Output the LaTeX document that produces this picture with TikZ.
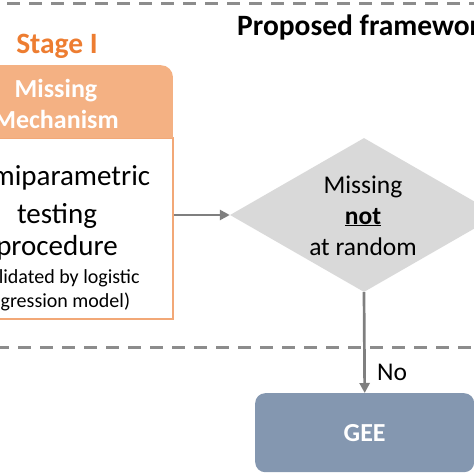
\documentclass[tikz,border=0pt]{standalone}
\usepackage{fontspec}
\setmainfont{Carlito}
\usetikzlibrary{shapes.geometric,arrows.meta}
\definecolor{orhead}{HTML}{F4B183}
\definecolor{orline}{HTML}{F2A877}
\definecolor{ortext}{HTML}{ED7D31}
\definecolor{diagray}{HTML}{D9D9D9}
\definecolor{geeblue}{HTML}{8497B0}
\definecolor{arrgray}{HTML}{7F7F7F}
\definecolor{dashgray}{HTML}{8C8C8C}
\begin{document}
\begin{tikzpicture}[x=1pt,y=-1pt,
  sepline/.style={draw=dashgray, line width=3pt, dash pattern=on 13pt off 9pt},
  arr/.style={draw=arrgray, line width=2.7pt, -{Triangle[length=10pt,width=10pt]}},
  bigtxt/.style={font=\fontsize{29}{35}\selectfont, inner sep=0, anchor=base},
  smalltxt/.style={font=\fontsize{20}{24}\selectfont, inner sep=0, anchor=base},
  diatxt/.style={font=\fontsize{25.5}{30}\selectfont, inner sep=0, anchor=base},
  headtxt/.style={font=\bfseries\fontsize{26}{30}\selectfont, text=white, inner sep=0, anchor=base},
  titletxt/.style={font=\bfseries\fontsize{29.5}{34}\selectfont, inner sep=0}
]
\useasboundingbox (0,0) rectangle (474,474);
\clip (0,0) rectangle (474,474);

% separators
\coordinate (s1a) at (-15,3.5);
\coordinate (s1b) at (490,3.5);
\coordinate (s2a) at (-4,347);
\coordinate (s2b) at (490,347);
\draw[sepline] (s1a) -- (s1b);
\draw[sepline] (s2a) -- (s2b);

% titles
\node[titletxt, anchor=base west] (prop) at (237,35) {Proposed framework};
\node[titletxt, anchor=base, text=ortext] (stage) at (57,53) {Stage I};

% stage I box
\node[draw=orline, line width=1.5pt, fill=white, minimum width=232pt, minimum height=181pt,
      inner sep=0, anchor=north west] (body) at (-60,137) {};
\node[fill=orhead, rounded corners=12pt, minimum width=233.5pt, minimum height=72.5pt,
      inner sep=0, anchor=north west] (head) at (-60.75,65) {};
\fill[orhead] (-60.75,105) rectangle (172.75,137.5);

\node[headtxt] (h1) at (56,97) {Missing};
\node[headtxt] (h2) at (56,128) {Mechanism};

\node[bigtxt] (b1) at (57,185) {Semiparametric};
\node[bigtxt] (b2) at (57,223) {testing};
\node[bigtxt] (b3) at (57,255) {procedure};
\node[smalltxt] (b4) at (57,283) {(validated by logistic};
\node[smalltxt] (b5) at (57,307) {regression model)};

% decision
\node[diamond, fill=diagray, minimum width=268pt, minimum height=154pt, aspect=1.74,
      inner sep=0] (dia) at (364,215) {};
\node[diatxt] (d1) at (363,193) {Missing};
\node[diatxt] (d2) at (363,224) {\textbf{\underline{not}}};
\node[diatxt] (d3) at (363,255) {at random};

% GEE
\node[fill=geeblue, rounded corners=10pt, minimum width=219pt, minimum height=79pt,
      inner sep=0, anchor=north west, text=white, font=\bfseries\fontsize{26}{30}\selectfont] (gee) at (255,393) {GEE};

% connectors
\draw[arr] (dia.west -| body.east) -- (dia.west);
\draw[arr] (dia.south) -- (gee.north);
\node[diatxt, anchor=base west] (no) at (377,380) {No};
\end{tikzpicture}
\end{document}
